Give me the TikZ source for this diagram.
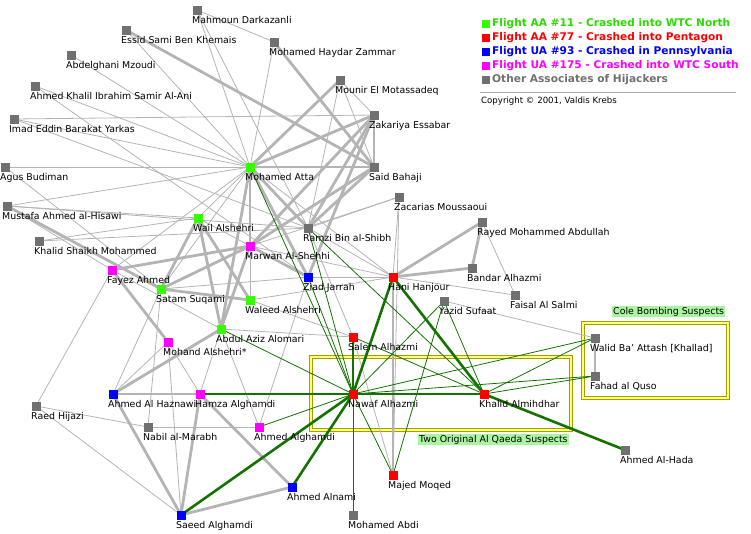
\documentclass[tikz,border=0pt]{standalone}
\usepackage{fontspec}
\setmainfont{DejaVu Sans}
\begin{document}
\begin{tikzpicture}[x=1pt,y=-1pt,font=\fontsize{9.4}{11}\selectfont,
  n/.style={draw=none,minimum size=9pt,inner sep=0pt},
  lab/.style={anchor=north west,inner sep=0pt},
  gt/.style={draw={rgb,255:red,180;green,180;blue,180},line width=0.8pt},
  gk/.style={draw={rgb,255:red,180;green,180;blue,180},line width=2.8pt},
  rt/.style={draw={rgb,255:red,20;green,115;blue,0},line width=0.8pt},
  rk/.style={draw={rgb,255:red,20;green,115;blue,0},line width=2.6pt},
  box/.style={draw={rgb,255:red,160;green,160;blue,0},double={rgb,255:red,255;green,255;blue,120},double distance=1.3pt,line width=0.9pt},
  tag/.style={fill={rgb,255:red,170;green,245;blue,160},inner sep=1pt,anchor=north west}]
\definecolor{cG}{RGB}{51,255,0}\definecolor{cR}{RGB}{255,0,0}\definecolor{cB}{RGB}{0,0,255}
\definecolor{cM}{RGB}{255,0,255}\definecolor{cK}{RGB}{112,112,112}
\definecolor{tG}{RGB}{40,220,0}
\useasboundingbox (0,0) rectangle (751,533);
% boxes
\draw[box] (311,357) rectangle (571,430);
\draw[box] (583,323) rectangle (728,398);
\node[tag] (t1) at (418,434) {Two Original Al Qaeda Suspects};
\node[tag] (t2) at (612,306) {Cole Bombing Suspects};
% node positions
\foreach \id/\x/\y in {mah/197/10, ess/126/30, zam/274/42, mzo/71/55, ani/35/86, mou/340/80,
 ima/14/119, zak/374/115, agu/5/167, att/250/167, sai/374/167, mus/7/206, zac/399/197,
 wai/198/218, ksm/39/241, ram/308/228, mar/250/246, ray/482/222, fay/112/270, zia/308/277,
 han/393/277, ban/472/268, sat/161/289, wal/250/300, yaz/444/301, fai/515/295, abd/221/329,
 sal/353/337, moh/168/342, wba/595/338, fah/595/376, haz/113/394, ham/200/394, naw/353/394,
 kha/484/394, rae/36/406, nab/148/427, aag/259/427, had/625/450, maj/393/475, aln/292/487,
 sae/181/515, abi/353/515}
 {\coordinate (\id) at (\x,\y);}
% edges
\foreach \a/\b in {mah/att,mah/zam,mah/ram,ess/att,zam/att,mzo/att,ani/att,ima/att,ima/ram,agu/att,agu/sai,
 mus/att,mus/ram,mus/wai,ksm/ram,ksm/wai,mou/sai,mou/ram,zak/mou,zac/ram,zac/han,zac/maj,
 att/wai,att/fay,att/sat,att/wal,att/han,ram/han,ram/sal,mar/han,mar/zac,fay/abd,fay/mar,
 haz/sat,haz/moh,rae/fay,rae/sae,rae/nab,nab/sat,nab/aag,moh/ham,ham/abd,aag/abd,aag/zia,
 sae/moh,sat/zia,wal/han,wal/sal,abd/sal,ray/fai,han/fai,yaz/wba,sal/maj,zia/han,wai/zia,
 ani/zia,agu/sat,mus/fay,ima/zak}
 {\path[gt] (\a) -- (\b);}
\foreach \a/\b in {ess/sai,zam/sai,mou/att,zak/att,zak/mar,zak/ram,zak/sai,zak/zia,sai/att,sai/ram,
 att/mar,att/ram,att/abd,att/zia,mar/sai,mar/zia,mar/abd,mar/sat,mar/fay,wai/sat,wai/wal,wai/abd,sat/wal,
 mus/sat,fay/moh,ham/sae,haz/sae,haz/ham,haz/abd,ham/aln,aln/sae,han/maj,han/ban,han/ray,ban/ray,wba/fah}
 {\path[gk] (\a) -- (\b);}
\foreach \a/\b in {att/naw,ram/naw,ram/kha,zia/naw,abd/naw,aag/naw,naw/wba,naw/fah,naw/maj,naw/abi,
 kha/wba,kha/fah,kha/yaz,yaz/maj,sal/kha,yaz/naw,han/naw}
 {\path[rt] (\a) -- (\b);}
\foreach \a/\b in {naw/han,naw/sal,naw/ham,naw/kha,naw/sae,naw/aln,han/kha,kha/had}
 {\path[rk] (\a) -- (\b);}
% node squares and labels
\foreach \id/\x/\y/\c/\t in {
 mah/197/10/cK/Mahmoun Darkazanli, ess/126/30/cK/Essid Sami Ben Khemais,
 zam/274/42/cK/Mohamed Haydar Zammar, mzo/71/55/cK/Abdelghani Mzoudi,
 ani/35/86/cK/Ahmed Khalil Ibrahim Samir Al-Ani, mou/340/80/cK/Mounir El Motassadeq,
 ima/14/119/cK/Imad Eddin Barakat Yarkas, zak/374/115/cK/Zakariya Essabar,
 agu/5/167/cK/Agus Budiman, att/250/167/cG/Mohamed Atta, sai/374/167/cK/Said Bahaji,
 mus/7/206/cK/Mustafa Ahmed al-Hisawi, zac/399/197/cK/Zacarias Moussaoui,
 wai/198/218/cG/Wail Alshehri, ksm/39/241/cK/Khalid Shaikh Mohammed,
 ram/308/228/cK/Ramzi Bin al-Shibh, mar/250/246/cM/Marwan Al-Shehhi,
 ray/482/222/cK/Rayed Mohammed Abdullah, fay/112/270/cM/Fayez Ahmed,
 zia/308/277/cB/Ziad Jarrah, han/393/277/cR/Hani Hanjour, ban/472/268/cK/Bandar Alhazmi,
 sat/161/289/cG/Satam Suqami, wal/250/300/cG/Waleed Alshehri, yaz/444/301/cK/Yazid Sufaat,
 fai/515/295/cK/Faisal Al Salmi, abd/221/329/cG/Abdul Aziz Alomari, sal/353/337/cR/Salem Alhazmi,
 moh/168/342/cM/Mohand Alshehri*, wba/595/338/cK/Walid Ba' Attash [Khallad],
 fah/595/376/cK/Fahad al Quso, haz/113/394/cB/Ahmed Al Haznawi, ham/200/394/cM/Hamza Alghamdi,
 naw/353/394/cR/Nawaf Alhazmi, kha/484/394/cR/Khalid Almihdhar, rae/36/406/cK/Raed Hijazi,
 nab/148/427/cK/Nabil al-Marabh, aag/259/427/cM/Ahmed Alghamdi, had/625/450/cK/Ahmed Al-Hada,
 maj/393/475/cR/Majed Moqed, aln/292/487/cB/Ahmed Alnami, sae/181/515/cB/Saeed Alghamdi,
 abi/353/515/cK/Mohamed Abdi}
 {\node[n,fill=\c] (s\id) at (\x,\y) {};
  \node[lab] (l\id) at (\x-5,\y+6) {\t};}
% legend
\foreach \i/\c/\tc/\t in {0/cG/tG/Flight AA \#11 - Crashed into WTC North,1/cR/cR/Flight AA \#77 - Crashed into Pentagon,
 2/cB/cB/Flight UA \#93 - Crashed in Pennsylvania,3/cM/cM/Flight UA \#175 - Crashed into WTC South,4/cK/cK/Other Associates of Hijackers}
 {\node[n,fill=\c,minimum size=8pt] (g\i) at (486,24+14*\i) {};
  \node[anchor=west,inner sep=0pt,font=\fontsize{10.6}{12}\selectfont\bfseries,text=\tc] (gl\i) at (492,24+14*\i) {\t};}
\coordinate (ra) at (480,92); \coordinate (rb) at (736,92);
\draw[cK!60,line width=1pt] (ra) -- (rb);
\node[anchor=west,inner sep=0pt,font=\fontsize{8.6}{10}\selectfont] (cp) at (481,101) {Copyright \textcopyright{} 2001, Valdis Krebs};
\end{tikzpicture}
\end{document}
